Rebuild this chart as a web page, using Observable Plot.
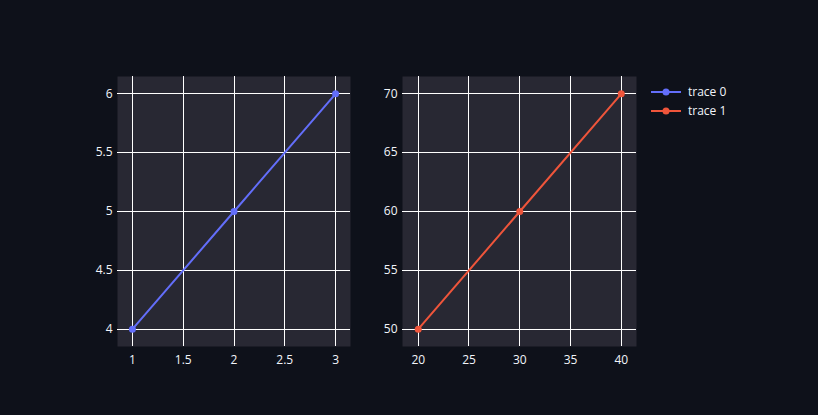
<!DOCTYPE html>
<html>
<head>
<meta charset="utf-8">
<script src="https://cdn.jsdelivr.net/npm/d3@7"></script>
<script src="https://cdn.jsdelivr.net/npm/@observablehq/plot@0.6"></script>
<style>
  html, body { margin: 0; padding: 0; background: #0e111a; }
  #wrap { position: relative; width: 818px; height: 415px; background: #0e111a; overflow: hidden; font-family: "Open Sans", sans-serif; }
  .panel { position: absolute; top: 0; }
  #legend { position: absolute; left: 650px; top: 82px; color: #f2f5fa; font-size: 12px; font-family: "Open Sans", sans-serif; }
  .item { display: flex; align-items: center; height: 19px; }
  .item svg { margin-right: 6px; }
</style>
</head>
<body>
<div id="wrap"></div>
<script>
const trace0X = [1, 2, 3];
const trace0Y = [4, 5, 6];
const trace1X = [20, 30, 40];
const trace1Y = [50, 60, 70];
const traceNames = ["trace 0", "trace 1"];
const traceColors = ["#636efa", "#ef553b"];
const leftXTicks = [1, 1.5, 2, 2.5, 3];
const leftYTicks = [4, 4.5, 5, 5.5, 6];
const rightXTicks = [20, 25, 30, 35, 40];
const rightYTicks = [50, 55, 60, 65, 70];

const PLOT_BG = "#282833";
const TEXT = "#f2f5fa";

function panel(xs, ys, xTicks, yTicks, xDomain, yDomain, color, opts) {
  const data = xs.map((x, i) => ({x, y: ys[i]}));
  return Plot.plot({
    width: opts.width,
    height: 415,
    marginLeft: opts.marginLeft,
    marginRight: opts.marginRight,
    marginTop: 76,
    marginBottom: 69,
    style: {background: "transparent", color: TEXT, fontSize: "12px", fontFamily: "Open Sans, sans-serif"},
    x: {domain: xDomain, ticks: xTicks, tickSize: 0, tickPadding: 9, label: null, tickFormat: d => String(d)},
    y: {domain: yDomain, ticks: yTicks, tickSize: 0, tickPadding: 5, label: null, tickFormat: d => String(d)},
    marks: [
      Plot.frame({fill: PLOT_BG, stroke: null}),
      Plot.gridX(xTicks, {stroke: "#ffffff", strokeOpacity: 1, strokeWidth: 1, shapeRendering: "crispEdges"}),
      Plot.gridY(yTicks, {stroke: "#ffffff", strokeOpacity: 1, strokeWidth: 1, shapeRendering: "crispEdges"}),
      Plot.line(data, {x: "x", y: "y", stroke: color, strokeWidth: 2}),
      Plot.dot(data, {x: "x", y: "y", fill: color, r: 3.5, stroke: null})
    ]
  });
}

const wrap = document.getElementById("wrap");

const left = panel(trace0X, trace0Y, leftXTicks, leftYTicks, [0.853, 3.147], [3.853, 6.147], traceColors[0],
  {width: 360, marginLeft: 117, marginRight: 10});
left.classList.add("panel");
left.style.left = "0px";
wrap.appendChild(left);

const right = panel(trace1X, trace1Y, rightXTicks, rightYTicks, [18.45, 41.5], [48.53, 71.47], traceColors[1],
  {width: 300, marginLeft: 42, marginRight: 24});
right.classList.add("panel");
right.style.left = "360px";
wrap.appendChild(right);

const legend = document.createElement("div");
legend.id = "legend";
traceNames.forEach((name, i) => {
  const item = document.createElement("div");
  item.className = "item";
  item.innerHTML = `<svg width="32" height="10"><line x1="1" y1="5" x2="31" y2="5" stroke="${traceColors[i]}" stroke-width="2"/><circle cx="16" cy="5" r="3.5" fill="${traceColors[i]}"/></svg>`;
  const span = document.createElement("span");
  span.textContent = name;
  item.appendChild(span);
  legend.appendChild(item);
});
wrap.appendChild(legend);
</script>
</body>
</html>
